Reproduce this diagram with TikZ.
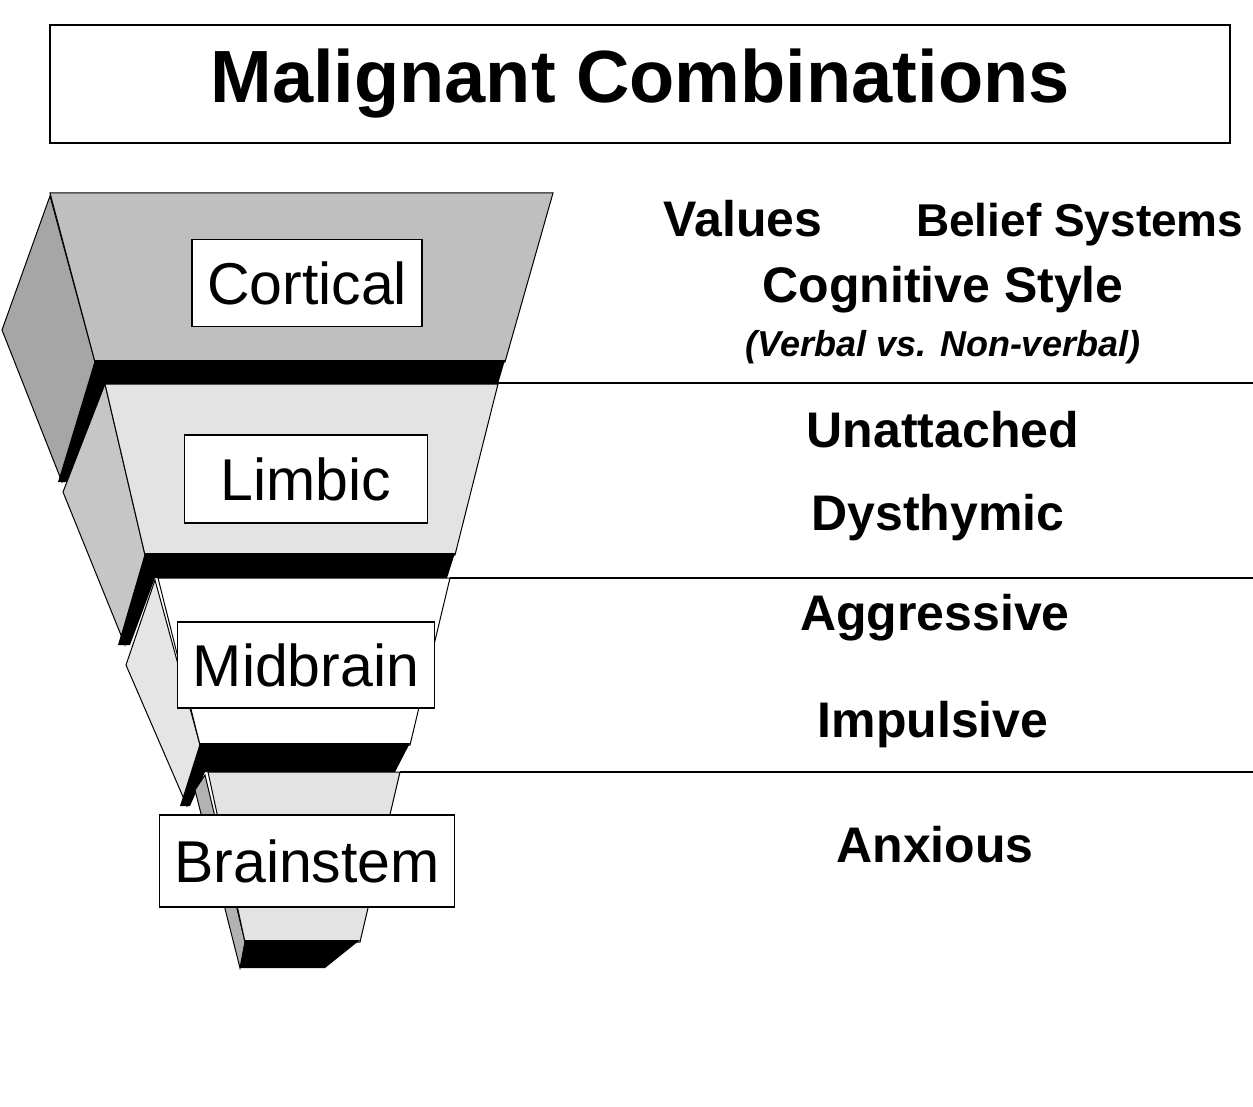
\documentclass[tikz,border=0pt]{standalone}
\usepackage{fontspec}
\setmainfont{Liberation Sans}
\begin{document}
\begin{tikzpicture}[x=1pt,y=-1pt,
  lbl/.style={draw,line width=1.5pt,fill=white,inner sep=0pt,font=\fontsize{59}{63}\selectfont},
  txt/.style={font=\bfseries\fontsize{50}{54}\selectfont},
  band/.style={fill=black},
  face/.style={draw=black,line width=1pt}]
\clip (0,0) rectangle (1253,1107);
\fill[white] (0,0) rectangle (1253,1107);
% title
\node[draw,line width=1.5pt,minimum width=1180pt,minimum height=118pt,inner sep=0pt,font=\bfseries\fontsize{74}{80}\selectfont] (title) at (640,84) {Malignant Combinations};
% separators
\draw[line width=1.3pt] (498,383) -- (1253,383);
\draw[line width=1.3pt] (450,578) -- (1253,578);
\draw[line width=1.3pt] (400,772) -- (1253,772);
% cortical
\draw[face,fill=gray!70] (50,196) -- (95,362) -- (62,482) -- (2,330) -- cycle;
\draw[face,fill=gray!50] (50,193) -- (553,193) -- (505,362) -- (95,362) -- cycle;
\fill[band] (95,360) -- (505,360) -- (498,384) -- (105,384) -- (70,482) -- (58,482) -- cycle;
% limbic
\draw[face,fill=gray!45] (105,384) -- (145,555) -- (125,645) -- (63,492) -- cycle;
\draw[face,fill=gray!22] (105,384) -- (498,384) -- (455,555) -- (145,555) -- cycle;
\fill[band] (145,553) -- (455,553) -- (447,578) -- (155,578) -- (130,645) -- (118,645) -- cycle;
% midbrain
\draw[face,fill=gray!20] (155,580) -- (200,745) -- (187,806) -- (126,665) -- cycle;
\draw[face,fill=white] (158,578) -- (450,578) -- (410,745) -- (200,745) -- cycle;
\fill[band] (200,743) -- (410,743) -- (395,772) -- (205,772) -- (190,806) -- (180,806) -- cycle;
% brainstem
\draw[face,fill=gray!60] (205,775) -- (245,942) -- (240,968) -- (195,790) -- cycle;
\draw[face,fill=gray!22] (208,772) -- (400,772) -- (360,942) -- (245,942) -- cycle;
\fill[band] (245,940) -- (360,940) -- (325,968) -- (240,968) -- cycle;
% labels
\node[lbl,minimum width=230pt,minimum height=87pt] (cort) at (307,283) {Cortical};
\node[lbl,minimum width=243pt,minimum height=88pt] (limb) at (306,479) {Limbic};
\node[lbl,minimum width=257pt,minimum height=86pt] (mid) at (306,665) {Midbrain};
\node[lbl,minimum width=295pt,minimum height=92pt] (brain) at (307,861) {Brainstem};
% right texts
\node[txt,anchor=base] (val) at (743,237) {Values};
\node[txt,anchor=base west,font=\bfseries\fontsize{46}{50}\selectfont,inner sep=0pt] (bel) at (916,237) {Belief Systems};
\node[txt] (cog) at (943,290) {Cognitive Style};
\node[font=\bfseries\itshape\fontsize{36}{40}\selectfont] (verb) at (943,347) {(Verbal vs. Non-verbal)};
\node[txt] (un) at (943,430) {Unattached};
\node[txt] (dys) at (938,518) {Dysthymic};
\node[txt] (agg) at (935,618) {Aggressive};
\node[txt] (imp) at (933,725) {Impulsive};
\node[txt] (anx) at (935,845) {Anxious};
\end{tikzpicture}
\end{document}
